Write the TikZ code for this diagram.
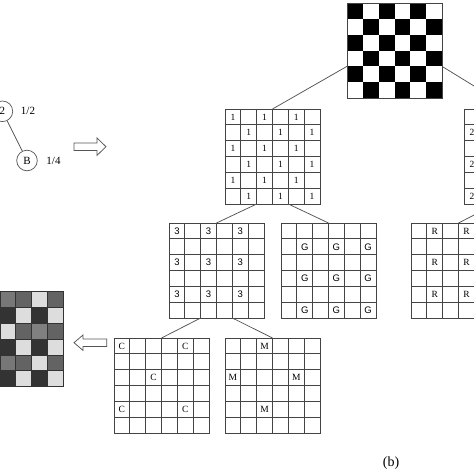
\documentclass[tikz,border=0pt]{standalone}
\usepackage{fontspec}
\setmainfont{Liberation Serif}
\newfontfamily\sansf{Liberation Sans}
\usetikzlibrary{calc}
\definecolor{gline}{HTML}{444444}
\definecolor{cline}{HTML}{555555}
\definecolor{gA}{HTML}{777777}
\definecolor{gB}{HTML}{636363}
\definecolor{gC}{HTML}{DDDDDD}
\definecolor{gD}{HTML}{333333}
\definecolor{gE}{HTML}{808080}
\def\cs{15.8333}
\tikzset{
  gridbox/.style={draw=gline, line width=0.75pt, minimum size=95pt, inner sep=0pt, outer sep=0pt, anchor=north west},
  gridline/.style={draw=gline, line width=0.75pt},
  lettr/.style={inner sep=0pt, font=\fontsize{9.5}{9.5}\selectfont},
  conn/.style={draw=cline, line width=0.75pt},
  treenode/.style={circle, draw=cline, line width=0.7pt, minimum size=20.6pt, inner sep=0pt, font=\fontsize{11}{11}\selectfont},
  lbl/.style={inner sep=0pt, font=\fontsize{11}{11}\selectfont},
  hollow/.style={draw=cline, line width=0.75pt, fill=white}
}
\newcommand\gridlines[1]{%
  \foreach \k in {1,...,5}{%
    \draw[gridline] ($(#1.north west)+(\k*\cs,0)$) -- ($(#1.south west)+(\k*\cs,0)$);
    \draw[gridline] ($(#1.north west)+(0,\k*\cs)$) -- ($(#1.north east)+(0,\k*\cs)$);
  }}
\newcommand\gridletters[3]{%
  \foreach \cc/\rr in {#2}{%
    \node[lettr] (#1-\cc-\rr) at ($(#1.north west)+({(\cc+0.5)*\cs},{(\rr+0.5)*\cs})$) {#3};
  }}
\newcommand\fillcell[4]{% grid, col, row, colour
  \fill[#4] ($(#1.north west)+({#2*\cs},{#3*\cs})$) rectangle ++(\cs,\cs);}
\begin{document}
\begin{tikzpicture}[x=1pt,y=-1pt]
\useasboundingbox (0,0) rectangle (474,474);
\clip (0,0) rectangle (474,474);
\fill[white] (0,0) rectangle (474,474);

% ---------- grids (frames) ----------
\node[gridbox] (check) at (347,3) {};
\node[gridbox] (one) at (225,109) {};
\node[gridbox] (two) at (464,109) {};
\node[gridbox] (three) at (169,223) {};
\node[gridbox] (gg) at (281,223) {};
\node[gridbox] (rr) at (411,223) {};
\node[gridbox] (cc) at (114,338) {};
\node[gridbox] (mm) at (225,338) {};
\node[gridbox, draw=gD] (gray) at (-31.7,291.7) {};

% ---------- checkerboard ----------
\foreach \rr in {0,...,5}{%
  \foreach \cc in {0,2,4}{%
    \pgfmathtruncatemacro\ccc{\cc+mod(\rr,2)}%
    \fillcell{check}{\ccc}{\rr}{black}
  }}
\draw[gridline] (check.north west) rectangle (check.south east);

% ---------- gray image ----------
\foreach \rr in {1,3,5}{%
  \foreach \cc in {0,2,4}{\fillcell{gray}{\cc}{\rr}{gD}}
  \foreach \cc in {1,3,5}{\fillcell{gray}{\cc}{\rr}{gC}}}
\foreach \rr in {0,4}{%
  \fillcell{gray}{0}{\rr}{gC}\fillcell{gray}{1}{\rr}{gB}
  \fillcell{gray}{2}{\rr}{gA}\fillcell{gray}{3}{\rr}{gB}
  \fillcell{gray}{4}{\rr}{gC}\fillcell{gray}{5}{\rr}{gB}}
\fillcell{gray}{0}{2}{gA}\fillcell{gray}{1}{2}{gB}
\fillcell{gray}{2}{2}{gC}\fillcell{gray}{3}{2}{gB}
\fillcell{gray}{4}{2}{gE}\fillcell{gray}{5}{2}{gB}
\foreach \k in {1,...,5}{%
  \draw[draw=gD, line width=0.75pt] ($(gray.north west)+(\k*\cs,0)$) -- ($(gray.south west)+(\k*\cs,0)$);
  \draw[draw=gD, line width=0.75pt] ($(gray.north west)+(0,\k*\cs)$) -- ($(gray.north east)+(0,\k*\cs)$);}
\draw[draw=gD, line width=0.75pt] (gray.north west) rectangle (gray.south east);

% ---------- labelled grids ----------
\gridlines{one}\gridlines{two}\gridlines{three}\gridlines{gg}
\gridlines{rr}\gridlines{cc}\gridlines{mm}

\gridletters{one}{0/0,2/0,4/0,1/1,3/1,5/1,0/2,2/2,4/2,1/3,3/3,5/3,0/4,2/4,4/4,1/5,3/5,5/5}{1}
\gridletters{two}{0/1,0/3,0/5}{2}
\gridletters{three}{0/0,2/0,4/0,0/2,2/2,4/2,0/4,2/4,4/4}{\sansf 3}
\gridletters{gg}{1/1,3/1,5/1,1/3,3/3,5/3,1/5,3/5,5/5}{\sansf G}
\gridletters{rr}{1/0,3/0,1/2,3/2,1/4,3/4}{R}
\gridletters{cc}{0/0,4/0,2/2,0/4,4/4}{C}
\gridletters{mm}{2/0,0/2,4/2,2/4}{M}

% ---------- connectors ----------
\coordinate (ckL) at ($(check.north west)+(0,4*\cs)$);
\coordinate (ckR) at ($(check.north east)+(0,4*\cs)$);
\coordinate (oneL) at ($(one.south west)+(2*\cs,0)$);
\coordinate (oneR) at ($(one.south west)+(4*\cs,0)$);
\coordinate (twoL) at ($(two.south west)+(2*\cs,0)$);
\coordinate (threeL) at ($(three.south west)+(2*\cs,0)$);
\coordinate (threeR) at ($(three.south west)+(4*\cs,0)$);
\draw[conn] (ckL) -- (one.north);
\draw[conn] (ckR) -- (two.north);
\draw[conn] (oneL) -- (three.north);
\draw[conn] (oneR) -- (gg.north);
\draw[conn] (twoL) -- (rr.north);
\draw[conn] (threeL) -- (cc.north);
\draw[conn] (threeR) -- (mm.north);

% ---------- tree ----------
\node[treenode] (n2) at (2.4,111.3) {2};
\node[treenode] (nB) at (27,160.5) {B};
\draw[conn] (n2) -- (nB);
\node[lbl] (l2) at (28,111) {1/2};
\node[lbl] (lB) at (53.5,160.5) {1/4};

% ---------- hollow arrows ----------
\draw[hollow] (74,143) -- (97,143) -- (97,138) -- (106,146.7) -- (97,155.4) -- (97,150.4) -- (74,150.4) -- cycle;
\draw[hollow] (74,342.7) -- (83,335) -- (83,339) -- (106.7,339) -- (106.7,346.4) -- (83,346.4) -- (83,350.4) -- cycle;

% ---------- caption ----------
\node[inner sep=0pt, font=\fontsize{14}{14}\selectfont] (cap) at (391,463.3) {(b)};
\end{tikzpicture}
\end{document}
